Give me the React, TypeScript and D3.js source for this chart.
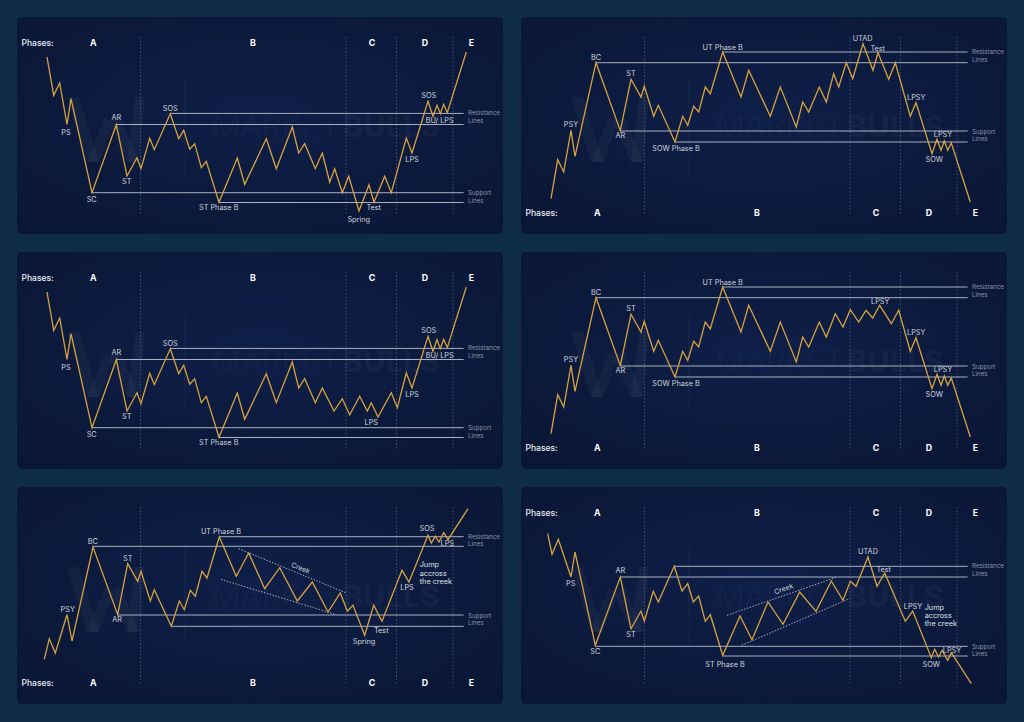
import React from 'react';
import * as d3 from 'd3';

type Pt = [number, number];
type Label = [string, number, number];

const WIDTH = 1024;
const HEIGHT = 722;
const PANEL_W = 486;
const PANEL_H = 217;
const LEVEL_END = 446.7;

// ---------- shared phase axis ----------
const PHASE_NAMES = ['A', 'B', 'C', 'D', 'E'];
const PHASE_POS = [76.3, 236, 355, 408, 454.3];
const PHASE_DIVIDERS = [123.5, 329, 379.5, 436];

// ---------- Panel 1: accumulation schematic #1 ----------
const accStart: Pt[] = [
  [30, 180], [36.7, 141.7], [42.7, 154], [50, 112.7], [54, 138.3], [75, 44.3], [99.3, 112.3],
  [110, 61], [120, 79.3], [124, 68.3], [132.7, 98.7], [137.3, 87.3], [153.3, 123.3], [161.7, 98.3],
  [166.7, 106.7], [172.7, 87.7], [177.7, 93.3], [184.3, 69.3], [189.3, 75.7], [202, 34.7],
  [220.3, 79], [227.7, 52.7],
];
const acc1End: Pt[] = [
  [249.3, 98.3], [259.3, 68.3], [275.3, 110], [281.7, 84], [287.7, 93.3], [298.3, 68.3],
  [305.3, 84], [312.7, 55], [317.7, 68.3], [325.3, 44.3], [331.7, 60.7], [342, 26], [352, 52.3],
  [357, 34.7], [367.7, 60.7], [374.3, 44.3], [389.3, 99], [395, 84], [411, 135.7], [416, 120.7],
  [420, 131.7], [423.3, 123.3], [426.7, 132.7], [430.3, 124.3], [449.3, 185],
];
const acc1Levels: Pt[] = [[123.6, 153.3], [112.5, 99.3], [44.3, 75], [34.5, 202]];
const accStartLabels: Label[] = [
  ['PS', 49, 105], ['SC', 74.7, 37.3], ['AR', 99.3, 119.3], ['ST', 109.7, 55.3],
  ['SOS', 153.3, 129], ['ST Phase B', 201.7, 29.7],
];
const acc1Labels: Label[] = [
  ['Spring', 341.7, 17.7], ['Test', 356.7, 30], ['LPS', 395, 77.7], ['SOS', 411.7, 141.7],
  ['BU/ LPS', 422.7, 116.7],
];

// ---------- Panel 3: accumulation schematic #2 ----------
const acc2End: Pt[] = [
  [249.3, 98.3], [259.3, 69.3], [275.3, 110], [281.7, 84], [287.7, 93.3], [298.3, 69.3],
  [305.3, 84], [317, 61], [325.3, 73.3], [332.7, 57.3], [342.7, 75.7], [350.3, 61], [354.3, 69.3],
  [361, 55], [374.3, 79.3], [380.3, 64.3], [389.3, 99], [395, 84], [411, 135.7], [416, 120.7],
  [420, 132.3], [423.3, 123.3], [426.7, 132.7], [430.3, 124.3], [449.3, 185],
];
const acc2Labels: Label[] = [
  ['LPS', 354.3, 50], ['LPS', 395, 78], ['SOS', 411.7, 142], ['BU/ LPS', 422.7, 117],
];

// ---------- Panel 2: distribution schematic #1 ----------
const distStart: Pt[] = [
  [30, 38.3], [36.7, 77.3], [42.7, 65], [50, 106.7], [54, 80.7], [75, 174.3], [99.3, 106.3],
  [110, 157.7], [120, 140], [123.3, 150.7], [132.7, 120.7], [137.3, 131.7], [154, 95],
  [161.7, 120.7], [166.7, 111.7], [172.7, 130.7], [177.7, 125], [184.3, 150], [189.3, 143.3],
  [201.7, 185], [220, 140], [227.7, 166.7],
];
const dist1End: Pt[] = [
  [249.3, 120.7], [259.3, 150], [275.3, 110], [281.7, 135], [287.7, 125], [298.3, 150],
  [305.3, 135], [312.7, 163.3], [317.7, 150], [325.3, 174.3], [331.7, 158.3], [342, 193.3],
  [352, 166.7], [357, 184.3], [367.7, 157.7], [374.3, 174.3], [389.3, 120.7], [395, 134.3],
  [411, 83.3], [416, 97.7], [420, 86.7], [423.3, 96], [426.7, 86.7], [430.3, 94], [449.3, 35],
];
const distLevels: Pt[] = [[185, 201.7], [174.3, 75], [106, 99.3], [95, 154]];
const distStartLabels: Label[] = [
  ['PSY', 50, 112.3], ['BC', 75, 179.3], ['AR', 99.3, 101.7], ['ST', 110, 163.3],
  ['SOW Phase B', 155, 89], ['UT Phase B', 201.7, 190],
];
const dist1Labels: Label[] = [
  ['UTAD', 341.7, 198.3], ['Test', 356.7, 189], ['LPSY', 395.3, 140], ['LPSY', 422, 102.3],
  ['SOW', 413.3, 77.3],
];

// ---------- Panel 4: distribution schematic #2 ----------
const dist2End: Pt[] = [
  [249.3, 120.7], [259.3, 150], [275.3, 110], [281.7, 135], [287.7, 125], [298.3, 150],
  [305.3, 135], [314.3, 158.3], [322, 145], [329.3, 162.3], [337.7, 150], [345, 161.7],
  [351.7, 154], [358.7, 166.7], [370.3, 148.3], [377.7, 161.7], [389.3, 120.7], [395, 134.3],
  [411, 83.3], [416, 97.7], [420, 86.7], [423.3, 96], [426.7, 86.7], [430.3, 94], [449.3, 35],
];
const dist2Labels: Label[] = [
  ['LPSY', 359.3, 171], ['LPSY', 395.3, 140], ['LPSY', 422, 102.3], ['SOW', 413.3, 77.3],
];

// ---------- Panel 5: re-accumulation ----------
const reaccSeries: Pt[] = [
  [27.3, 47.7], [32.3, 68.3], [38.3, 54], [50, 92.3], [55, 66], [76, 160], [100.7, 92.3],
  [110.7, 143.3], [120.7, 125.7], [124, 135.7], [133.3, 106], [137.3, 117.3], [154.3, 80.7],
  [162.3, 106], [167.3, 97.3], [173.3, 116.7], [178.3, 110.7], [185, 135.7], [190, 129],
  [202.3, 170], [219.3, 130.7], [231.7, 154], [247.7, 118.3], [262.7, 139.3], [280.3, 106],
  [295.3, 125], [311, 95], [323.3, 114], [330.3, 96], [336, 101.7], [347.7, 71.7], [356.7, 101.7],
  [365, 85.7], [385, 136.7], [392, 125], [411, 171.7], [414.3, 164], [418.3, 170.7], [422, 165],
  [426.7, 174.3], [431, 167.3], [451, 198.3],
];
const reaccLevels: Pt[] = [[170.3, 202.3], [160.7, 76], [92, 100.7], [80.7, 154.3]];
const reaccCreek: Pt[][] = [
  [[221.7, 158.3], [329.3, 114]],
  [[204, 127.7], [319.3, 92.3]],
];
const reaccLabels: Label[] = [
  ['PSY', 50.7, 97.7], ['BC', 75.7, 165.7], ['AR', 100, 87.3], ['ST', 110.7, 149],
  ['UT Phase B', 204, 176], ['Spring', 347, 66], ['Test', 364.3, 76.7], ['LPS', 390, 120],
  ['SOS', 410, 178.7], ['LPS', 430.3, 163.3],
];
const reaccCreekLabel: [number, number, number] = [283.7, 139, 22];
const reaccJump: [number, number] = [402.7, 142.3];

// ---------- Panel 6: re-distribution ----------
const redistSeries: Pt[] = [
  [26.7, 173.3], [31, 152.7], [37.3, 167.7], [50, 130], [54, 155], [74.3, 61.7], [99.3, 130],
  [110, 78.3], [120, 96], [123.3, 86], [132.3, 115.7], [137.3, 105], [153.3, 140.7], [161, 116],
  [166.7, 123.3], [172.3, 105], [177.7, 111], [184.3, 85.7], [189.3, 92.3], [201.7, 51.7],
  [219, 91], [231, 67.3], [247, 105], [262, 82.7], [278.7, 115], [295, 95.7], [310.3, 126],
  [322, 106.7], [329.3, 125.7], [335, 120.7], [347, 150], [356, 120.7], [363.7, 134],
  [384.3, 85.7], [391.7, 96], [410.3, 49.3], [413.7, 57.7], [417.7, 50], [421, 56.7],
  [426.7, 46.7], [430.3, 54.3], [450.3, 23.3],
];
const redistLevels: Pt[] = [[140.7, 153.3], [130, 99.3], [60.7, 74.3], [51, 201.7]];
const redistCreek: Pt[][] = [
  [[206, 91.7], [316, 130]],
  [[220.7, 61.7], [328.3, 108.3]],
];
const redistLabels: Label[] = [
  ['PS', 49.7, 123.3], ['SC', 74.3, 56], ['AR', 99.3, 136.3], ['ST', 110, 72.7],
  ['ST Phase B', 204, 42.3], ['UTAD', 347, 156], ['Test', 362.7, 137.7], ['LPSY', 392, 100.7],
  ['SOW', 410.3, 42.7], ['LPSY', 431, 56.7],
];
const redistCreekLabel: [number, number, number] = [262.7, 118.3, -20];
const redistJump: [number, number] = [403.7, 100];

const JUMP_LINES = ['Jump', 'accross', 'the creek'];

// faint watermark logo outline (decoration)
const LOGO_SHAPES: Pt[][] = [
  [[50, 80], [70, 145], [82, 145], [62, 80]],
  [[70, 145], [88, 100], [96, 108], [82, 145]],
  [[92, 104], [110, 145], [122, 145], [104, 100]],
  [[110, 145], [118, 80], [128, 80], [122, 145]],
];

interface PanelCfg {
  origin: [number, number];
  series: Pt[];
  levels: Pt[];
  labels: Label[];
  phasesTop: boolean;
  creek?: Pt[][];
  creekLabel?: [number, number, number];
  jump?: [number, number];
}

const PANELS: PanelCfg[] = [
  { origin: [17, 17], series: [...accStart, ...acc1End], levels: acc1Levels, labels: [...accStartLabels, ...acc1Labels], phasesTop: true },
  { origin: [521, 17], series: [...distStart, ...dist1End], levels: distLevels, labels: [...distStartLabels, ...dist1Labels], phasesTop: false },
  { origin: [17, 252], series: [...accStart, ...acc2End], levels: acc1Levels, labels: [...accStartLabels, ...acc2Labels], phasesTop: true },
  { origin: [521, 252], series: [...distStart, ...dist2End], levels: distLevels, labels: [...distStartLabels, ...dist2Labels], phasesTop: false },
  { origin: [17, 487], series: reaccSeries, levels: reaccLevels, labels: reaccLabels, phasesTop: false, creek: reaccCreek, creekLabel: reaccCreekLabel, jump: reaccJump },
  { origin: [521, 487], series: redistSeries, levels: redistLevels, labels: redistLabels, phasesTop: true, creek: redistCreek, creekLabel: redistCreekLabel, jump: redistJump },
];

const FONT = 'Inter, Roboto, "Noto Sans", sans-serif';
const GOLD = '#d6a23f';

function Panel({ cfg }: { cfg: PanelCfg }) {
  const [ox, oy] = cfg.origin;
  const x = d3.scaleLinear().domain([0, PANEL_W]).range([ox, ox + PANEL_W]);
  const y = d3.scaleLinear().domain([0, 220]).range([oy + 220, oy]);
  const line = d3.line<Pt>().x((d) => x(d[0])).y((d) => y(d[1]));
  const logoY = d3.scaleLinear().domain([0, 220]).range([oy, oy + 220]);
  const logoLine = d3.line<Pt>().x((d) => x(d[0])).y((d) => logoY(d[1])).curve(d3.curveLinearClosed);
  const phaseP = cfg.phasesTop ? 194.5 : 24.5;
  const [r1, , s1] = cfg.levels;
  return (
    <g>
      <rect x={ox} y={oy} width={PANEL_W} height={PANEL_H} rx={5} fill="url(#panelGrad)" />
      {/* watermark */}
      <g fill="#ffffff" fillOpacity={0.035}>
        {LOGO_SHAPES.map((s, i) => (
          <path key={'m' + i} d={logoLine(s) || ''} />
        ))}
      </g>
      <line x1={x(168)} x2={x(168)} y1={y(160)} y2={y(63)} stroke="#ffffff" strokeOpacity={0.05} />
      <g fill="#ffffff" fillOpacity={0.045} fontFamily={FONT}>
        <text x={x(195)} y={y(100)} fontSize={30} fontWeight={200} textLength={128} lengthAdjust="spacingAndGlyphs">MARKET</text>
        <text x={x(326)} y={y(100)} fontSize={30} fontWeight={800} textLength={97} lengthAdjust="spacingAndGlyphs">BULLS</text>
      </g>
      {/* phase dividers */}
      {PHASE_DIVIDERS.map((t, i) => (
        <line key={'d' + i} x1={x(t)} x2={x(t)} y1={y(200)} y2={y(22)} stroke="#4a5d80" strokeWidth={0.8} strokeDasharray="1.5,2" />
      ))}
      {/* levels */}
      {cfg.levels.map(([p, from], i) => (
        <line key={'l' + i} x1={x(from)} x2={x(LEVEL_END)} y1={y(p)} y2={y(p)} stroke="#c5cbd6" strokeOpacity={0.85} strokeWidth={1} />
      ))}
      <g fontFamily={FONT} fontSize={6.2} fill="#8c95a7" dominantBaseline="central">
        <text x={x(451)} y={y(r1[0] + 0.5)}>Resistance</text>
        <text x={x(451)} y={y(r1[0] - 7.2)}>Lines</text>
        <text x={x(451)} y={y(s1[0])}>Support</text>
        <text x={x(451)} y={y(s1[0] - 7.5)}>Lines</text>
      </g>
      {/* creek */}
      {cfg.creek && cfg.creek.map((seg, i) => (
        <path key={'c' + i} d={line(seg) || ''} stroke="#b4bccb" strokeWidth={0.9} strokeDasharray="1.5,1.5" fill="none" />
      ))}
      {cfg.creekLabel && (
        <text
          x={x(cfg.creekLabel[0])}
          y={y(cfg.creekLabel[1])}
          transform={`rotate(${cfg.creekLabel[2]},${x(cfg.creekLabel[0])},${y(cfg.creekLabel[1])})`}
          fontFamily={FONT} fontSize={7} fill="#cfd4dd" textAnchor="middle" dominantBaseline="central"
        >Creek</text>
      )}
      {/* price path */}
      <path d={line(cfg.series) || ''} stroke={GOLD} strokeWidth={1.3} fill="none" strokeLinejoin="miter" />
      {/* point labels */}
      <g fontFamily={FONT} fontSize={7.3} fill="#cfd4dd" textAnchor="middle" dominantBaseline="central">
        {cfg.labels.map(([txt, t, p], i) => (
          <text key={'t' + i} x={x(t)} y={y(p)}>{txt}</text>
        ))}
      </g>
      {cfg.jump && (
        <g fontFamily={FONT} fontSize={7.3} fill="#dde1e8" dominantBaseline="central">
          {JUMP_LINES.map((s, i) => (
            <text key={'j' + i} x={x(cfg.jump![0])} y={y(cfg.jump![1] - i * 8.4)}>{s}</text>
          ))}
        </g>
      )}
      {/* phases row */}
      <text x={x(4.5)} y={y(phaseP)} fontFamily={FONT} fontSize={8.5} fontWeight={500} fill="#e9ecf1" dominantBaseline="central">Phases:</text>
      {PHASE_NAMES.map((n, i) => (
        <text key={'p' + i} x={x(PHASE_POS[i])} y={y(phaseP)} fontFamily={FONT} fontSize={8.8} fontWeight={700} fill="#ffffff" textAnchor="middle" dominantBaseline="central">{n}</text>
      ))}
    </g>
  );
}

export default function App() {
  return (
    <svg width={WIDTH} height={HEIGHT} style={{ position: 'absolute', left: 0, top: 0, display: 'block' }}>
      <defs>
        <radialGradient id="panelGrad" cx="50%" cy="45%" r="70%">
          <stop offset="0%" stopColor="#0e1f48" />
          <stop offset="100%" stopColor="#0a1635" />
        </radialGradient>
      </defs>
      <rect x={0} y={0} width={WIDTH} height={HEIGHT} fill="#0e2b48" />
      {PANELS.map((cfg, i) => (
        <Panel key={i} cfg={cfg} />
      ))}
    </svg>
  );
}
